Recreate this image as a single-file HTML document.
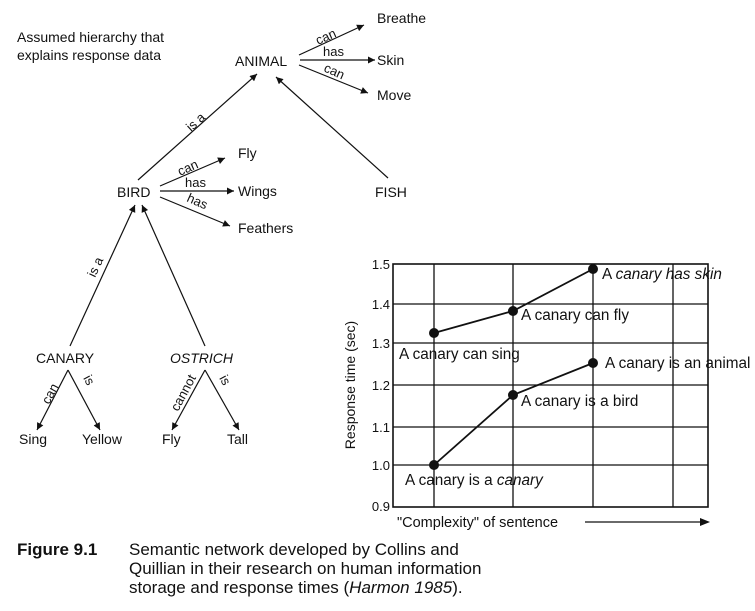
<!DOCTYPE html>
<html><head><style>
body{margin:0;background:#fff}
svg{display:block;font-family:"Liberation Sans",sans-serif;fill:#111}
</style></head><body>
<svg width="755" height="611" viewBox="0 0 755 611" xmlns="http://www.w3.org/2000/svg">
<defs><marker id="a" viewBox="0 0 10 10" refX="10" refY="5" markerWidth="9" markerHeight="7" orient="auto" markerUnits="userSpaceOnUse"><path d="M0,0L10,5L0,10z" fill="#111"/></marker></defs>
<g font-size="14">
<text x="17" y="42">Assumed hierarchy that</text>
<text x="17" y="60">explains response data</text>
<text x="235" y="66">ANIMAL</text>
<text x="377" y="23">Breathe</text>
<text x="377" y="65">Skin</text>
<text x="377" y="100">Move</text>
<text x="117" y="197">BIRD</text>
<text x="238" y="158">Fly</text>
<text x="238" y="196">Wings</text>
<text x="238" y="233">Feathers</text>
<text x="375" y="197">FISH</text>
<text x="36" y="363">CANARY</text>
<text x="170" y="363" font-style="italic">OSTRICH</text>
<text x="19" y="444">Sing</text>
<text x="82" y="444">Yellow</text>
<text x="162" y="444">Fly</text>
<text x="227" y="444">Tall</text>
</g>
<g stroke="#111" stroke-width="1.2" fill="none" marker-end="url(#a)">
<line x1="138" y1="180" x2="257" y2="74"/>
<line x1="388" y1="178" x2="276" y2="77"/>
<line x1="299" y1="55" x2="364" y2="25"/>
<line x1="300" y1="60" x2="375" y2="60"/>
<line x1="299" y1="65" x2="368" y2="93"/>
<line x1="160" y1="186" x2="225" y2="158"/>
<line x1="160" y1="191" x2="234" y2="191"/>
<line x1="160" y1="197" x2="230" y2="226"/>
<line x1="70" y1="346" x2="135" y2="205"/>
<line x1="205" y1="346" x2="142" y2="205"/>
<line x1="68" y1="370" x2="37" y2="430"/>
<line x1="68" y1="370" x2="100" y2="430"/>
<line x1="205" y1="370" x2="172" y2="430"/>
<line x1="205" y1="370" x2="239" y2="430"/>
</g>
<g font-size="13">
<text transform="translate(191,132) rotate(-42)">is a</text>
<text transform="translate(180,176) rotate(-24)">can</text>
<text x="185" y="187">has</text>
<text transform="translate(186,201) rotate(24)">has</text>
<text transform="translate(318,45) rotate(-24)">can</text>
<text x="323" y="56">has</text>
<text transform="translate(323,71) rotate(24)">can</text>
<text transform="translate(95,278) rotate(-65)">is a</text>
<text transform="translate(49,405) rotate(-62)">can</text>
<text transform="translate(83,378) rotate(62)">is</text>
<text transform="translate(178,412) rotate(-62)">cannot</text>
<text transform="translate(219,378) rotate(62)">is</text>
</g>
<g stroke="#111" stroke-width="1.3" fill="none">
<rect x="393" y="264" width="315" height="243" stroke-width="1.6"/>
<line x1="393" y1="304" x2="708" y2="304"/>
<line x1="393" y1="343" x2="708" y2="343"/>
<line x1="393" y1="385" x2="708" y2="385"/>
<line x1="393" y1="427" x2="708" y2="427"/>
<line x1="393" y1="465" x2="708" y2="465"/>
<line x1="434" y1="264" x2="434" y2="507"/>
<line x1="513" y1="264" x2="513" y2="507"/>
<line x1="593" y1="264" x2="593" y2="507"/>
<line x1="673" y1="264" x2="673" y2="507"/>
<polyline points="434,333 513,311 593,269" stroke-width="1.8"/>
<polyline points="434,465 513,395 593,363" stroke-width="1.8"/>
<line x1="585" y1="522" x2="700" y2="522"/>
</g>
<path d="M700,518L710,522L700,526z" fill="#111"/>
<g fill="#111">
<circle cx="434" cy="333" r="5"/><circle cx="513" cy="311" r="5"/><circle cx="593" cy="269" r="5"/>
<circle cx="434" cy="465" r="5"/><circle cx="513" cy="395" r="5"/><circle cx="593" cy="363" r="5"/>
</g>
<g font-size="13" text-anchor="end">
<text x="390" y="269">1.5</text><text x="390" y="309">1.4</text><text x="390" y="348">1.3</text>
<text x="390" y="390">1.2</text><text x="390" y="432">1.1</text><text x="390" y="470">1.0</text><text x="390" y="511">0.9</text>
</g>
<text transform="translate(355,385) rotate(-90)" font-size="14" text-anchor="middle">Response time (sec)</text>
<g font-size="15.3">
<text x="602" y="279">A <tspan font-style="italic">canary has skin</tspan></text>
<text x="521" y="320">A canary can fly</text>
<text x="399" y="359">A canary can sing</text>
<text x="605" y="368">A canary is an animal</text>
<text x="521" y="406">A canary is a bird</text>
<text x="405" y="485">A canary is a <tspan font-style="italic">canary</tspan></text>
</g>
<text x="397" y="527" font-size="14.5">"Complexity" of sentence</text>
<g font-size="17">
<text x="17" y="555" font-weight="bold" font-size="17">Figure 9.1</text>
<text x="129" y="555">Semantic network developed by Collins and</text>
<text x="129" y="574">Quillian in their research on human information</text>
<text x="129" y="593">storage and response times (<tspan font-style="italic">Harmon 1985</tspan>).</text>
</g>
</svg>
</body></html>
